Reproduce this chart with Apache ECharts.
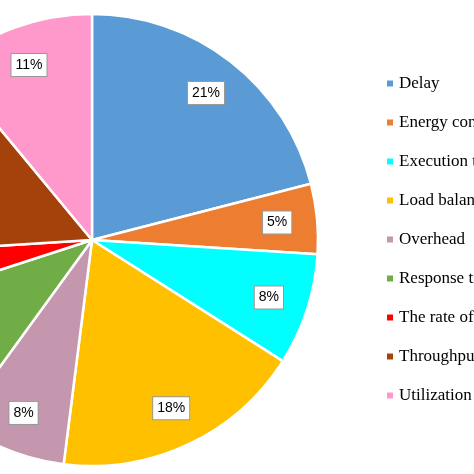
<!DOCTYPE html>
<html><head><meta charset="utf-8">
<script src="https://cdn.jsdelivr.net/npm/echarts@6/dist/echarts.min.js"></script>
<style>html,body{margin:0;padding:0;background:#fff}#c{width:474px;height:474px}</style>
</head><body><div id="c"></div>
<script>
const categories = ["Delay","Energy consumption","Execution time","Load balancing","Overhead","Response time","The rate of success","Throughput","Utilization"];
const values = [21,5,8,18,8,10,4,15,11];
const colors = ["#5B9BD5","#ED7D31","#00FFFF","#FFC000","#C497AE","#70AD47","#FF0000","#A5420C","#FF99CC"];
const data = categories.map((n,i)=>({name:n,value:values[i],itemStyle:{color:colors[i]}}));
const labelData = categories.map((n,i)=>({name:n,value:values[i],itemStyle:{color:'transparent'},
  label:{show:!(n==="Response time"||n==="The rate of success"||n==="Throughput")}}));
const chart = echarts.init(document.getElementById('c'));
chart.setOption({
  animation:false,
  legend:{orient:'vertical',left:380,top:70,itemWidth:8,itemHeight:8,itemGap:22,icon:'rect',
    data:categories,textStyle:{fontFamily:'Liberation Serif',fontSize:17,color:'#000'}},
  series:[
    {type:'pie',center:[92,240],radius:226,startAngle:90,clockwise:true,data:data,
     label:{show:false},labelLine:{show:false},itemStyle:{borderColor:'#fff',borderWidth:2.5}},
    {type:'pie',center:[92,240],radius:[140,226],startAngle:90,clockwise:true,data:labelData,silent:true,
     legendHoverLink:false,
     label:{position:'inside',formatter:'{c}%',fontFamily:'Liberation Sans',fontSize:14,color:'#000',
       backgroundColor:'#fff',borderColor:'#999',borderWidth:1,padding:[4,4]},
     labelLine:{show:false}}
  ]
});
</script></body></html>
